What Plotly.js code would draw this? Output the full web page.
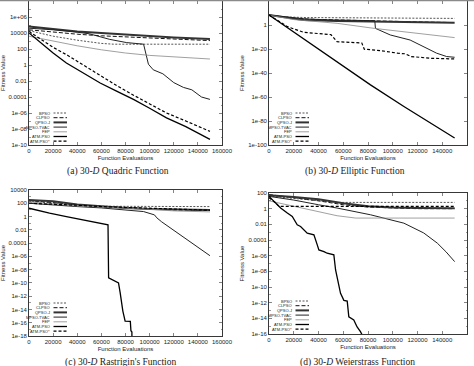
<!DOCTYPE html>
<html><head><meta charset="utf-8">
<script src="https://cdn.plot.ly/plotly-3.0.1.min.js"></script>
<style>html,body{margin:0;padding:0;background:#fff}#chart{width:474px;height:366px}</style>
</head><body><div id="chart"></div>
<script>
// ---- series names (legend order) ----
const seriesNames = ["BPSO","CLPSO","QPSO-J","MPSO-TVAC","FEP","ATM-PSO","ATM-PSO*"];
const panelCaptions = ["(a) 30-<i>D</i> Quadric Function","(b) 30-<i>D</i> Elliptic Function",
                       "(c) 30-<i>D</i> Rastrigin's Function","(d) 30-<i>D</i> Weierstrass Function"];
const xTickVals = [0,20000,40000,60000,80000,100000,120000,140000,160000];
// y tick exponents (log10) and labels
const aTickExp = [-10,-8,-6,-4,-2,0,2,4,6,8];
const aTickTxt = ["1e-10","1e-08","1e-06","0.0001","0.01","1","100","10000","1e+06","1e+08"];
const bTickExp = [-100,-80,-60,-40,-20,0,20];
const bTickTxt = ["1e-100","1e-80","1e-60","1e-40","1e-20","1","1e+20"];
const cTickExp = [-18,-16,-14,-12,-10,-8,-6,-4,-2,0,2,4];
const cTickTxt = ["1e-18","1e-16","1e-14","1e-12","1e-10","1e-08","1e-06","0.0001","0.01","1","100","10000"];
const dTickExp = [-16,-14,-12,-10,-8,-6,-4,-2,0,2];
const dTickTxt = ["1e-16","1e-14","1e-12","1e-10","1e-08","1e-06","0.0001","0.01","1","100"];

// ---- data: x = function evaluations, y = log10(fitness value) ----
// (a) Quadric
const a_BPSO_x = [0,20000,40000,60000,70000,150000];
const a_BPSO_y = [4.3,3.6,3.1,2.7,2.6,2.6];
const a_CLPSO_x = [0,20000,40000,60000,80000,100000,120000,150000];
const a_CLPSO_y = [4.4,4.1,3.85,3.65,3.5,3.35,3.2,3.05];
const a_QPSOJ_x = [0,20000,40000,60000,80000,100000,120000,150000];
const a_QPSOJ_y = [4.8,4.5,4.2,4.0,3.8,3.6,3.45,3.25];
const a_MPSO_x = [0,20000,40000,50000,67000,81000,95000,97000,99000,103000,111000,120000,128000,135000,140000,143000,150000];
const a_MPSO_y = [4.6,4.4,4.1,3.9,3.2,2.8,2.6,1.5,0.1,-0.6,-1.1,-2.2,-2.8,-3.1,-3.6,-4.0,-4.3];
const a_FEP_x = [0,20000,40000,60000,80000,100000,120000,150000];
const a_FEP_y = [3.6,3.0,2.4,1.9,1.5,1.2,1.0,0.75];
const a_ATM_x = [0,10000,20000,31000,45000,59000,73000,87000,100000,114000,130000,150000];
const a_ATM_y = [4.0,2.7,1.5,0.25,-1.0,-2.25,-3.3,-4.33,-5.4,-6.6,-7.7,-9.3];
const a_ATMs_x = [0,10000,20000,31000,45000,59000,73000,87000,100000,114000,130000,150000];
const a_ATMs_y = [4.2,3.2,2.2,1.3,0,-1.4,-2.6,-3.8,-4.9,-6.0,-7.0,-8.3];
// (b) Elliptic
const b_BPSO_x = [0,10000,30000,60000,100000,150000];
const b_BPSO_y = [8.3,6.8,6.2,5.9,5.7,5.5];
const b_CLPSO_x = [0,20000,40000,60000,90000,120000,150000];
const b_CLPSO_y = [8.3,5.5,4.6,4.0,3.3,2.6,2.0];
const b_QPSOJ_x = [0,28000,55000,90000,120000,150000];
const b_QPSOJ_y = [8.3,4.2,3.4,2.8,2.3,1.8];
const b_MPSO_x = [0,15000,30000,50000,70000,85500,86000,98000,114000,125000,135500,143600,150000];
const b_MPSO_y = [8.3,6.5,5,4.2,3.8,3.6,-2.8,-8.3,-12.5,-18,-23.5,-26.3,-26.9];
const b_FEP_x = [0,20000,55000,85000,150000];
const b_FEP_y = [8.3,4.5,1.4,-2.8,-10.5];
const b_ATM_x = [0,55000,82000,109000,150000];
const b_ATM_y = [8.3,-30.5,-49.9,-67.9,-94.2];
const b_ATMs_x = [0,15000,28000,42000,50000,55000,68000,75000,77000,90000,104000,110000,115000,130000,150000];
const b_ATMs_y = [8.3,-1.4,-6.1,-7.5,-8,-13.9,-14.4,-15,-20.2,-21.3,-23.5,-24,-26.3,-27.7,-28.3];
// (c) Rastrigin
const c_BPSO_x = [0,20000,40000,60000,150000];
const c_BPSO_y = [2.3,2.0,1.7,1.55,1.5];
const c_CLPSO_x = [0,20000,40000,60000,80000,100000,120000,150000];
const c_CLPSO_y = [2.4,2.1,1.7,1.5,1.35,1.2,1.0,0.9];
const c_QPSOJ_x = [0,20000,40000,60000,80000,100000,120000,150000];
const c_QPSOJ_y = [2.5,2.3,1.8,1.5,1.3,1.15,1.05,1.0];
const c_MPSO_x = [0,20000,40000,60000,80000,95000,104000,106000,110000,120000,130000,140000,150000];
const c_MPSO_y = [2.0,1.7,1.5,1.3,1.05,0.75,0.25,-0.2,-0.8,-2.1,-3.4,-4.65,-5.9];
const c_FEP_x = [0,20000,40000,60000,80000,100000,120000,150000];
const c_FEP_y = [2.2,1.9,1.6,1.45,1.3,1.1,0.85,0.7];
const c_ATM_x = [0,10000,17000,31000,45000,55000,65500,66000,71400,74200,75600,77800,79700,84000,84500,85300,85400];
const c_ATM_y = [1.25,0.8,0.5,0,-0.5,-0.85,-1.25,-9.25,-9.75,-10,-11.5,-14.25,-15.75,-15.8,-17.2,-17.4,-20];
const c_ATMs_x = [0,20000,40000,60000,80000,100000,120000,150000];
const c_ATMs_y = [2.0,1.9,1.7,1.5,1.4,1.3,1.1,0.95];
// (d) Weierstrass
const d_BPSO_x = [0,20000,40000,55000,150000];
const d_BPSO_y = [1.6,1.3,1.0,0.8,0.8];
const d_CLPSO_x = [0,20000,40000,60000,80000,100000,120000,150000];
const d_CLPSO_y = [1.8,1.4,1.0,0.5,0.2,0.1,0.0,0.0];
const d_QPSOJ_x = [0,20000,40000,60000,80000,100000,120000,150000];
const d_QPSOJ_y = [1.7,1.5,1.2,0.7,0.3,0.15,0.1,0.05];
const d_MPSO_x = [0,20000,40000,55000,82000,109000,125000,136000,143000,150000];
const d_MPSO_y = [1.57,1.1,0.5,0.08,-0.78,-1.85,-3.1,-4.4,-5.5,-6.76];
const d_FEP_x = [0,20000,40000,55000,70000,150000];
const d_FEP_y = [1.0,0.3,-0.4,-0.9,-1.2,-1.2];
const d_ATM_x = [0,9400,14800,18800,22800,25500,30900,36300,39000,40300,44400,47000,52400,53800,57800,60500,63200,64500,68500,71200,73900,76600];
const d_ATM_y = [1.57,0.08,-0.56,-0.99,-2.06,-2.27,-3.13,-3.34,-4.62,-5.26,-5.48,-5.69,-5.9,-7.83,-10.8,-11.7,-11.8,-13.8,-14.2,-15.1,-15.7,-16.5];
const d_ATMs_x = [0,5000,8000,150000];
const d_ATMs_y = [1.4,0.8,0.3,0.3];

// ---- styles ----
const styles = [
  {color:'#555', width:1,   dash:'2px,1.5px'},
  {color:'#111', width:1,   dash:'4px,2px'},
  {color:'#333', width:2,   dash:'solid'},
  {color:'#222', width:1,   dash:'solid'},
  {color:'#888', width:0.8, dash:'solid'},
  {color:'#000', width:1.3, dash:'solid'},
  {color:'#000', width:1.2, dash:'3px,2px'}
];

const W = 474, H = 366;
const px = v => v / W, py = v => 1 - v / H;
const panels = [
  {x0:29, x1:222, y0:1,   y1:145, exp:aTickExp, txt:aTickTxt, rng:[-10,8],
   data:[[a_BPSO_x,a_BPSO_y],[a_CLPSO_x,a_CLPSO_y],[a_QPSOJ_x,a_QPSOJ_y],[a_MPSO_x,a_MPSO_y],[a_FEP_x,a_FEP_y],[a_ATM_x,a_ATM_y],[a_ATMs_x,a_ATMs_y]],
   legY:113, legX:51, capX:118, capY:171, minor:true},
  {x0:269, x1:467, y0:1,  y1:145, exp:bTickExp, txt:bTickTxt, rng:[-100,20],
   data:[[b_BPSO_x,b_BPSO_y],[b_CLPSO_x,b_CLPSO_y],[b_QPSOJ_x,b_QPSOJ_y],[b_MPSO_x,b_MPSO_y],[b_FEP_x,b_FEP_y],[b_ATM_x,b_ATM_y],[b_ATMs_x,b_ATMs_y]],
   legY:113, legX:293, capX:355, capY:171, minor:false},
  {x0:29, x1:222, y0:190, y1:336, exp:cTickExp, txt:cTickTxt, rng:[-18,4],
   data:[[c_BPSO_x,c_BPSO_y],[c_CLPSO_x,c_CLPSO_y],[c_QPSOJ_x,c_QPSOJ_y],[c_MPSO_x,c_MPSO_y],[c_FEP_x,c_FEP_y],[c_ATM_x,c_ATM_y],[c_ATMs_x,c_ATMs_y]],
   legY:303, legX:51, capX:120, capY:362, minor:true},
  {x0:269, x1:467, y0:193, y1:334, exp:dTickExp, txt:dTickTxt, rng:[-16,2],
   data:[[d_BPSO_x,d_BPSO_y],[d_CLPSO_x,d_CLPSO_y],[d_QPSOJ_x,d_QPSOJ_y],[d_MPSO_x,d_MPSO_y],[d_FEP_x,d_FEP_y],[d_ATM_x,d_ATM_y],[d_ATMs_x,d_ATMs_y]],
   legY:301, legX:293, capX:357, capY:362, minor:true}
];

const traces = [], annotations = [], shapes = [];
const layout = {
  width:W, height:H, margin:{l:0,r:0,t:0,b:0}, showlegend:false,
  paper_bgcolor:'#fff', plot_bgcolor:'#fff',
  font:{family:'Liberation Sans, Arial, sans-serif', size:6, color:'#222'}
};
const tickFont = {family:'Liberation Sans, Arial, sans-serif', size:6, color:'#222'};

panels.forEach((p, i) => {
  const n = i === 0 ? '' : String(i + 1);
  const xa = 'xaxis' + n, ya = 'yaxis' + n;
  p.data.forEach((d, k) => {
    traces.push({
      x: d[0], y: d[1].map(v => Math.pow(10, v)),
      xaxis: 'x' + n, yaxis: 'y' + n, mode: 'lines', name: seriesNames[k],
      line: {color: styles[k].color, width: styles[k].width, dash: styles[k].dash},
      cliponaxis: true, hoverinfo: 'skip'
    });
  });
  layout[xa] = {
    domain:[px(p.x0), px(p.x1)], anchor:'y' + n, range:[0,160000],
    tickmode:'array', tickvals:xTickVals, ticktext:xTickVals.map(String),
    ticks:'inside', ticklen:3, tickwidth:0.6, tickcolor:'#333', mirror:'allticks',
    showline:true, linecolor:'#222', linewidth:0.9, showgrid:false, zeroline:false,
    tickfont:tickFont,
    title:{text:'Function Evaluations', font:{family:'Liberation Sans, Arial, sans-serif', size:6, color:'#222'}, standoff:2}
  };
  const minorVals = [];
  if (p.minor) { for (let e = p.rng[0] + 1; e < p.rng[1]; e += 2) minorVals.push(Math.pow(10, e)); }
  layout[ya] = {
    domain:[py(p.y1), py(p.y0)], anchor:'x' + n, type:'log', range:p.rng,
    tickmode:'array', tickvals:p.exp.map(e => Math.pow(10, e)), ticktext:p.txt,
    ticks:'inside', ticklen:3, tickwidth:0.6, tickcolor:'#333', mirror:'allticks',
    showline:true, linecolor:'#222', linewidth:0.9, showgrid:false, zeroline:false,
    tickfont:tickFont,
    minor: p.minor ? {tickmode:'array', tickvals:minorVals, ticks:'inside', ticklen:1.5, tickcolor:'#333', tickwidth:0.5} : undefined,
    title:{text:'Fitness Value', font:{family:'Liberation Sans, Arial, sans-serif', size:6, color:'#222'}, standoff:3}
  };
  // legend (gnuplot style: label on the left, sample on the right)
  seriesNames.forEach((name, k) => {
    const yy = p.legY + k * 4.7;
    annotations.push({
      xref:'paper', yref:'paper', x:px(p.legX), y:py(yy), xanchor:'right', yanchor:'middle',
      text:name, showarrow:false, borderpad:0,
      font:{family:'Liberation Sans, Arial, sans-serif', size:4, color:'#222'}
    });
    shapes.push({
      type:'line', xref:'paper', yref:'paper', x0:px(p.legX + 2.5), x1:px(p.legX + 16),
      y0:py(yy), y1:py(yy),
      line:{color:styles[k].color, width:styles[k].width, dash:styles[k].dash}
    });
  });
  annotations.push({
    xref:'paper', yref:'paper', x:px(p.capX), y:py(p.capY), xanchor:'center', yanchor:'middle',
    text:panelCaptions[i], showarrow:false,
    font:{family:'Liberation Serif, Times New Roman, serif', size:9.5, color:'#222'}
  });
});
shapes.push({type:'rect', xref:'paper', yref:'paper', x0:0, x1:1, y0:py(1.3), y1:1,
  fillcolor:'#8a8a8a', line:{width:0}, layer:'above'});
layout.annotations = annotations;
layout.shapes = shapes;

Plotly.newPlot('chart', traces, layout, {staticPlot:true, displayModeBar:false});
</script></body></html>
